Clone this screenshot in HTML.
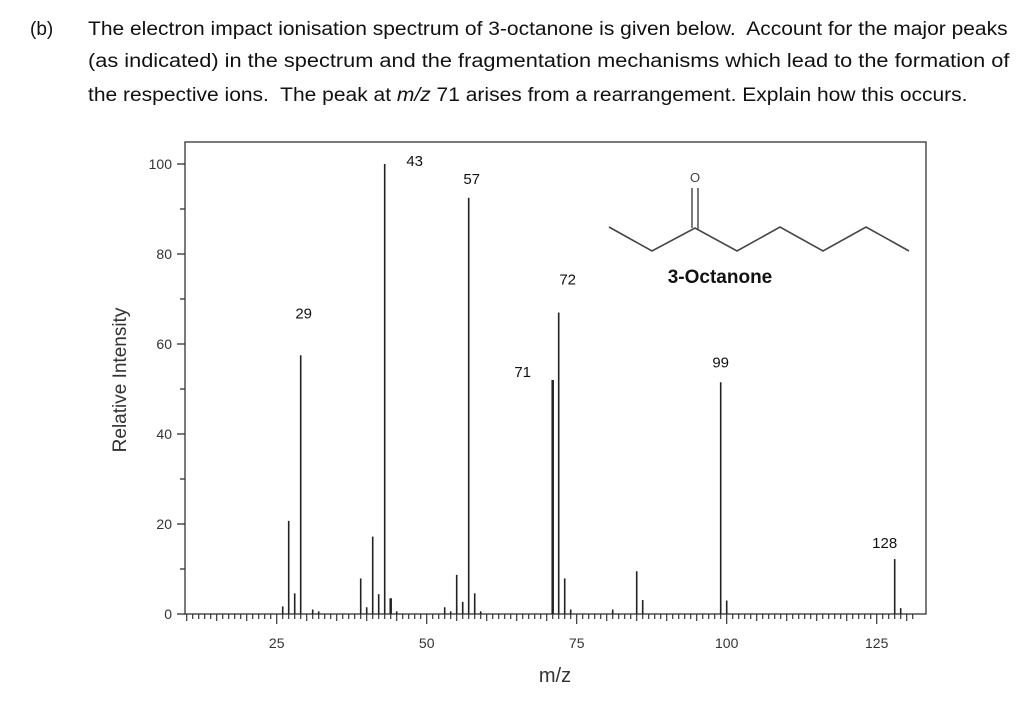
<!DOCTYPE html>
<html><head><meta charset="utf-8"><style>
body{margin:0;width:1024px;height:715px;background:#fff;overflow:hidden;font-family:"Liberation Sans",sans-serif;}
.q{position:absolute;font-size:19px;color:#111;white-space:nowrap;transform-origin:0 0;}
svg{position:absolute;left:0;top:0}
</style></head><body>
<div class="q" style="left:30px;top:19px">(b)</div>
<div class="q" style="left:88px;top:19px;transform:scaleX(1.105)">The electron impact ionisation spectrum of 3-octanone is given below.&nbsp; Account for the major peaks</div>
<div class="q" style="left:88px;top:51px;transform:scaleX(1.145)">(as indicated) in the spectrum and the fragmentation mechanisms which lead to the formation of</div>
<div class="q" style="left:88px;top:85px;transform:scaleX(1.105)">the respective ions.&nbsp; The peak at <i>m/z</i> 71 arises from a rearrangement. Explain how this occurs.</div>
<svg id="chart" width="1024" height="715"></svg>
<script>
const mz=[26,27,28,29,31,32,39,40,41,42,43,44,45,53,54,55,56,57,58,59,71,72,73,74,81,85,86,99,100,128,129];
const intensity=[1.7,20.7,4.6,57.5,1,0.6,7.9,1.5,17.2,4.4,100,3.5,0.6,1.5,0.6,8.7,2.7,92.5,4.6,0.6,52,67,7.9,1,1,9.5,3.1,51.5,3,12.2,1.3];
const labeledPeaks=[29,43,57,71,72,99,128];
const xTicks=[25,50,75,100,125];
const yTicks=[0,20,40,60,80,100];
const NS="http://www.w3.org/2000/svg";
const svg=document.getElementById('chart');
const X=m=>276.7+(m-25)*6;
const Y=v=>614-v*4.5;
function labelOffset(m){
 switch(m){
  case 29:return [3,-37];
  case 43:return [30,2];
  case 57:return [3,-14];
  case 71:return [-30,-3];
  case 72:return [9,-28];
  case 99:return [0,-15];
  case 128:return [-10,-11];
 }
 return [0,-10];
}
function mk(t,a){const e=document.createElementNS(NS,t);for(const k in a)e.setAttribute(k,a[k]);svg.appendChild(e);return e;}
let e=mk('rect',{x:185,y:142,width:741,height:472,fill:'none',stroke:'#333','stroke-width':1.3});


for(let v=0;v<=100;v+=10){
 const major=v%20===0;
 e=mk('line',{x1:major?177:180,x2:185,y1:Y(v),y2:Y(v),stroke:'#333','stroke-width':1.3});
 
 
}
yTicks.forEach(v=>{
 e=mk('text',{x:172,y:Y(v)+5,'text-anchor':'end','font-size':14,fill:'#333'});e.textContent=v;
 
 
});
for(let m=10;m<=131;m++){
 const major=m%25===0, mid=m%5===0;
 e=mk('line',{x1:X(m),x2:X(m),y1:614,y2:major?624:(mid?621:619),stroke:'#333','stroke-width':1.2});
 
 
}
xTicks.forEach(v=>{
 e=mk('text',{x:X(v),y:648,'text-anchor':'middle','font-size':14,fill:'#333'});e.textContent=v;
 
 
});
mz.forEach((m,i)=>{
 e=mk('line',{x1:X(m),x2:X(m),y1:614,y2:Y(intensity[i]),stroke:'#222','stroke-width':(m===71||m===44)?2.5:1.6});
 
 
});
labeledPeaks.forEach(m=>{
 const v=intensity[mz.indexOf(m)];
 const o=labelOffset(m);
 e=mk('text',{x:X(m)+o[0],y:Y(v)+o[1],'text-anchor':'middle','font-size':15,fill:'#111'});e.textContent=m;
 
 
});
e=mk('text',{x:555,y:682,'text-anchor':'middle','font-size':20,fill:'#333'});e.textContent='m/z';


e=mk('text',{x:0,y:0,'text-anchor':'middle','font-size':19,fill:'#333',transform:'translate(126,380) rotate(-90)'});e.textContent='Relative Intensity';


e=mk('polyline',{points:'609,227 652,251 695,228 737,251 780,227 823,251 866,227 909,251',fill:'none',stroke:'#444','stroke-width':1.6});


e=mk('line',{x1:692,x2:692,y1:228,y2:188,stroke:'#444','stroke-width':1.4});


e=mk('line',{x1:698,x2:698,y1:230,y2:188,stroke:'#444','stroke-width':1.4});


e=mk('text',{x:695,y:182,'text-anchor':'middle','font-size':13,fill:'#444'});e.textContent='O';


e=mk('text',{x:720,y:283,'text-anchor':'middle','font-size':19,'font-weight':'bold',fill:'#111'});e.textContent='3-Octanone';


</script>
</body></html>
